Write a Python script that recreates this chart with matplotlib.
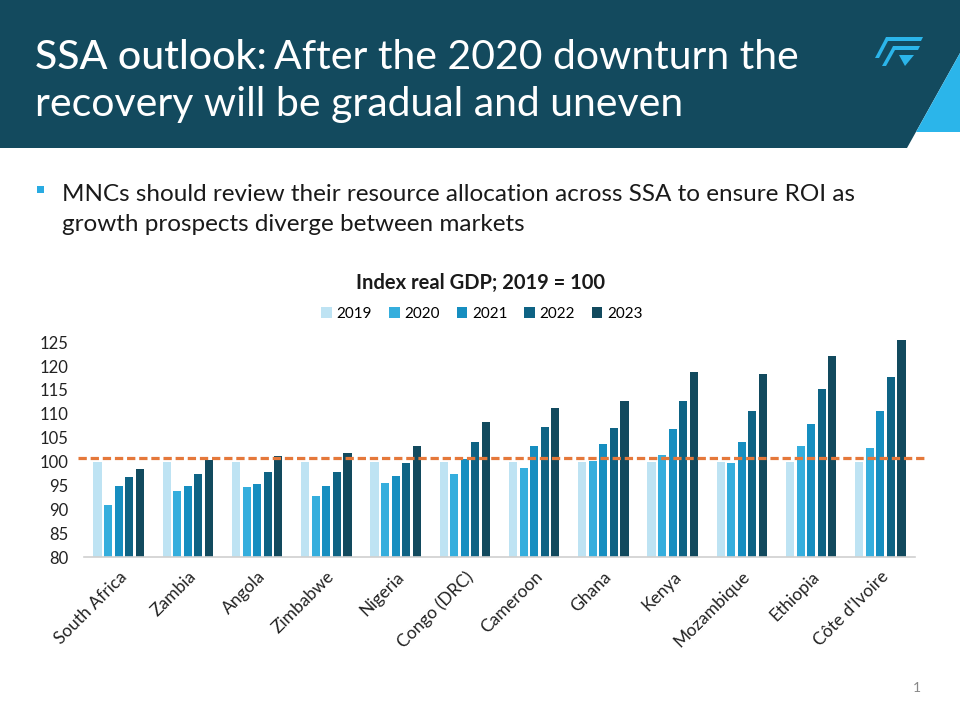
import matplotlib
matplotlib.use("Agg")
import matplotlib.pyplot as plt
import numpy as np
from matplotlib.patches import Polygon, Rectangle

plt.rcParams['font.family'] = ['Lato', 'DejaVu Sans']

countries = ["South Africa", "Zambia", "Angola", "Zimbabwe", "Nigeria", "Congo (DRC)",
             "Cameroon", "Ghana", "Kenya", "Mozambique", "Ethiopia", "Côte d'Ivoire"]
years = ["2019", "2020", "2021", "2022", "2023"]
v2019 = [100, 100, 100, 100, 100, 100, 100, 100, 100, 100, 100, 100]
v2020 = [91.0, 93.9, 94.8, 92.9, 95.5, 97.5, 98.7, 100.1, 101.5, 99.8, 103.3, 102.9]
v2021 = [95.0, 95.0, 95.3, 95.0, 97.1, 100.5, 103.3, 103.6, 106.9, 104.2, 107.9, 110.7]
v2022 = [96.9, 97.5, 97.9, 97.9, 99.8, 104.1, 107.3, 107.1, 112.6, 110.5, 115.1, 117.8]
v2023 = [98.5, 100.3, 101.2, 101.9, 103.3, 108.4, 111.3, 112.6, 118.8, 118.4, 122.2, 125.5]
reference_level = 100.8
yticks = [80, 85, 90, 95, 100, 105, 110, 115, 120, 125]

series = [v2019, v2020, v2021, v2022, v2023]
colors = ["#BEE3F3", "#35AEDD", "#168EC0", "#0E6384", "#124A5E"]

W, H = 960, 720
fig = plt.figure(figsize=(9.6, 7.2), dpi=100)
fig.patch.set_facecolor("white")

def px(x, y):
    return (x / W, 1 - y / H)

# Header band
dark = "#134A5E"
fig.patches.append(Polygon([px(0, 0), px(960, 0), px(960, 53), px(907, 148), px(0, 148)],
                           closed=True, transform=fig.transFigure, facecolor=dark, edgecolor="none"))
fig.patches.append(Polygon([px(960, 53), px(960, 132), px(916, 132)], closed=True,
                           transform=fig.transFigure, facecolor="#2BB5EA", edgecolor="none"))

# Logo (stylised)
logo_c = "#2BB5EA"
strokes = [
    [(886, 37), (923, 37), (921, 41), (884, 41)],
    [(884, 41), (888, 41), (879, 58), (875, 58)],
    [(893, 46), (920, 46), (918, 50), (891, 50)],
    [(891, 50), (895, 50), (886, 66), (882, 66)],
    [(899, 55), (914, 55), (905, 66)],
]
for s in strokes:
    fig.patches.append(Polygon([px(*p) for p in s], closed=True, transform=fig.transFigure,
                               facecolor=logo_c, edgecolor="none"))

# Title
t1 = fig.text(35 / W, 1 - 69 / H, "SSA outlook:", color="white", fontsize=29.5,
              fontweight="medium", va="baseline", ha="left")
fig.canvas.draw()
r = fig.canvas.get_renderer()
bb = t1.get_window_extent(renderer=r)
fig.text((bb.x1 + 7) / W, 1 - 69 / H, "After the 2020 downturn the", color="white",
         fontsize=29.5, fontweight="normal", va="baseline", ha="left")
fig.text(35 / W, 1 - 116 / H, "recovery will be gradual and uneven", color="white",
         fontsize=29.5, fontweight="normal", va="baseline", ha="left")

# Bullet
fig.patches.append(Rectangle(px(37, 193), 7 / W, 7 / H, transform=fig.transFigure,
                             facecolor="#29ABE2", edgecolor="none"))
fig.text(62 / W, 1 - 201 / H, "MNCs should review their resource allocation across SSA to ensure ROI as",
         fontsize=17.5, color="#1a1a1a", va="baseline", ha="left")
fig.text(62 / W, 1 - 231 / H, "growth prospects diverge between markets",
         fontsize=17.5, color="#1a1a1a", va="baseline", ha="left")

# Chart
ax_left, ax_right = 84, 915
y_bot, y_top = 557.3, 332.6
ax = fig.add_axes([ax_left / W, (H - y_bot) / H, (ax_right - ax_left) / W, (y_bot - y_top) / H])
x = np.arange(len(countries))
step = 0.152
bw = 0.118
for i, (vals, c, yr) in enumerate(zip(series, colors, years)):
    ax.bar(x + (i - 2) * step, [v - 80 for v in vals], bottom=80, width=bw, color=c, label=yr,
           zorder=2)
ax.set_xlim(-0.5, len(countries) - 0.5)
ax.set_ylim(80, 127)
ax.set_yticks(yticks)
ax.set_yticklabels([str(t) for t in yticks], fontsize=12, color="#222222")
ax.set_xticks(x)
ax.set_xticklabels(countries, rotation=45, ha="right", rotation_mode="anchor",
                   fontsize=12.5, color="#222222")
ax.tick_params(axis="both", length=0)
ax.tick_params(axis="x", pad=8)
ax.tick_params(axis="y", pad=11)
for sp in ["top", "right", "left"]:
    ax.spines[sp].set_visible(False)
ax.spines["bottom"].set_color("#D0D0D0")
ax.spines["bottom"].set_linewidth(1.2)

unit = (ax_right - ax_left) / len(countries)
xl0 = -0.5 + (78 - ax_left) / unit
xl1 = -0.5 + (925 - ax_left) / unit
ax.plot([xl0, xl1], [reference_level, reference_level], color="#E5783A", lw=2.3,
        dashes=(2.6, 1.2), clip_on=False, zorder=3)

fig.text(480 / W, 1 - 283 / H, "Index real GDP; 2019 = 100", fontsize=14.5, fontweight="bold",
         ha="center", va="center", color="#1a1a1a")
handles = [Rectangle((0, 0), 1, 1, facecolor=c, edgecolor="none") for c in colors]
fig.legend(handles, years, loc="center", bbox_to_anchor=(482 / W, 1 - 314 / H), ncol=5,
           frameon=False, fontsize=11, handlelength=0.7, handleheight=0.7,
           handletextpad=0.3, columnspacing=1.1)

fig.text(917 / W, 1 - 688 / H, "1", fontsize=10, color="#888888", ha="center", va="center")

fig.savefig("out.png", dpi=100)
